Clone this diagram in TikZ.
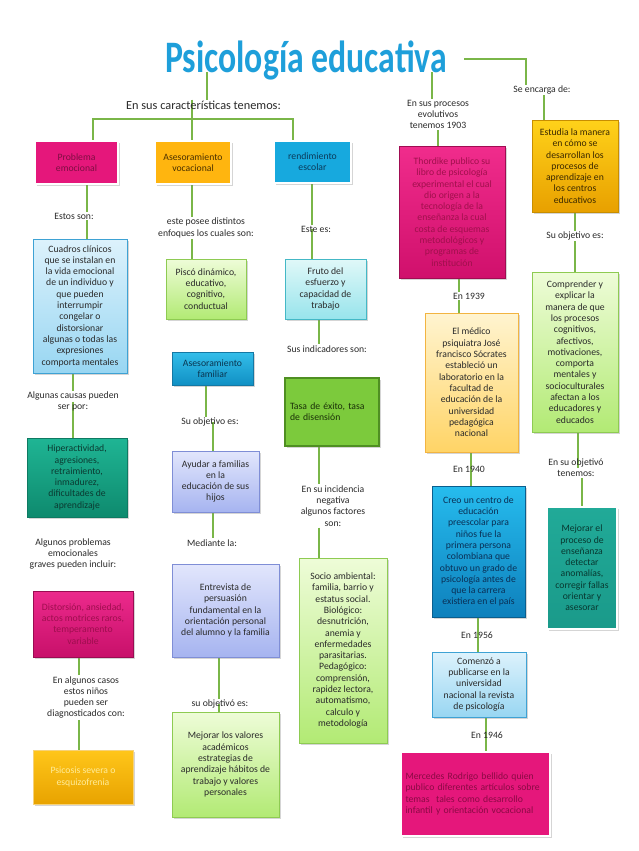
\documentclass[tikz,border=0pt]{standalone}
\usepackage{fontspec}
\setmainfont{Carlito}
\newfontfamily\titlefont[FakeStretch=0.75]{Carlito}
\usetikzlibrary{shadows,calc}
\pgfdeclarelayer{bgzero}
\pgfdeclarelayer{background}
\pgfsetlayers{bgzero,background,main}
\definecolor{lnc}{HTML}{7AB648}
\definecolor{titc}{HTML}{1E9FDA}
\definecolor{lblc}{HTML}{2A2A2A}
\definecolor{mag}{HTML}{E5177B}
\definecolor{magtxt}{HTML}{7E0E42}
\definecolor{orng}{HTML}{FFB50F}
\definecolor{blu}{HTML}{17A9DE}
\definecolor{tasag}{HTML}{7CCA3C}
\definecolor{tasab}{HTML}{4F8F22}
\definecolor{tasat}{HTML}{1A3008}
\definecolor{lgT}{HTML}{EEFCD8}\definecolor{lgB}{HTML}{B2EA74}\definecolor{lgD}{HTML}{8ECB52}
\definecolor{lvT}{HTML}{E2E6FC}\definecolor{lvB}{HTML}{A6B4F0}\definecolor{lvD}{HTML}{7F8ED6}
\definecolor{lbT}{HTML}{DDF2FC}\definecolor{lbB}{HTML}{98D6F2}\definecolor{lbD}{HTML}{3EA2D4}
\definecolor{lcT}{HTML}{E0F8F8}\definecolor{lcB}{HTML}{98E4EC}\definecolor{lcD}{HTML}{44B8C6}
\definecolor{loT}{HTML}{FFF4D0}\definecolor{loB}{HTML}{FFD466}\definecolor{loD}{HTML}{F2B441}
\definecolor{hipT}{HTML}{1FB594}\definecolor{hipB}{HTML}{0E8A6E}\definecolor{hipD}{HTML}{0E7A62}\definecolor{hipX}{HTML}{0B3A31}
\definecolor{disT}{HTML}{EC2A8C}\definecolor{disB}{HTML}{C8106A}\definecolor{disD}{HTML}{9A0C52}\definecolor{disX}{HTML}{9E0E4E}
\definecolor{psiT}{HTML}{FFC61A}\definecolor{psiB}{HTML}{E8A300}\definecolor{psiD}{HTML}{F6D27A}\definecolor{psiX}{HTML}{FFEC9A}
\definecolor{avX}{HTML}{4A3000}
\definecolor{afT}{HTML}{34BEEA}\definecolor{afB}{HTML}{1090C4}\definecolor{afD}{HTML}{1478A4}\definecolor{afX}{HTML}{0A3550}
\definecolor{reX}{HTML}{0A3A5A}
\definecolor{thT}{HTML}{F02C8C}\definecolor{thB}{HTML}{D0106C}\definecolor{thD}{HTML}{A00C52}\definecolor{thX}{HTML}{A0104C}
\definecolor{crT}{HTML}{26BCEE}\definecolor{crB}{HTML}{0E80BC}\definecolor{crD}{HTML}{0A5E8E}\definecolor{crX}{HTML}{0A2F55}
\definecolor{merX}{HTML}{8A0A44}
\definecolor{esT}{HTML}{FFD21A}\definecolor{esB}{HTML}{E8A000}\definecolor{esD}{HTML}{C88E00}\definecolor{esX}{HTML}{3A2800}
\definecolor{mpT}{HTML}{21AA98}\definecolor{mpB}{HTML}{1A9A8A}\definecolor{mpX}{HTML}{083830}
\newcommand\bxfs{\fontsize{9.7}{11.3}\selectfont}
\tikzset{
  x=1pt, y=-1pt,
  ln/.style={draw=lnc, line width=1.2pt},
  lbl/.style={font=\bxfs, align=center, inner sep=1pt, text=lblc},
  bx/.style 2 args={minimum width=#1pt, minimum height=#2pt, inner sep=2pt, align=center,
     font=\bxfs, line width=0.8pt,
     drop shadow={shadow xshift=1.6pt, shadow yshift=-1.8pt, opacity=0.33}},
  frame/.style={draw=white, line width=2.4pt},
  grad/.style n args={3}{top color=#1, bottom color=#2, draw=#3},
  lgreen/.style={grad={lgT}{lgB}{lgD}},
  lav/.style={grad={lvT}{lvB}{lvD}},
  lblue/.style={grad={lbT}{lbB}{lbD}},
}
\begin{document}
\begin{tikzpicture}
\begin{pgfonlayer}{bgzero}
\fill[white] (0,0) rectangle (638,851);
\end{pgfonlayer}
\useasboundingbox (0,0) rectangle (638,851);
% title and heading
\node[font=\titlefont\bfseries\fontsize{45}{50}\selectfont, text=titc, inner sep=0pt, anchor=base] (title) at (306,72) {Psicología educativa};
\node[font=\fontsize{12.3}{14}\selectfont, text=lblc, inner sep=1pt] (head) at (203.5,105) {En sus características tenemos:};
\coordinate (jn) at (192,119);
% left column
\node[bx={83}{43}, frame, fill=mag, text=magtxt] (pe) at (76.5,162.5) {Problema\\emocional};
\node[lbl] (estos) at (74,216) {Estos son:};
\node[bx={94}{134}, lblue, text=lblc] (cc) at (80,306) {Cuadros clínicos\\que se instalan en\\la vida emocional\\de un individuo y\\que pueden\\interrumpir\\congelar o\\distorsionar\\algunas o todas las\\expresiones\\comporta mentales};
\node[lbl] (causas) at (73,401.5) {Algunas causas pueden\\ser por:};
\node[bx={100}{79}, grad={hipT}{hipB}{hipD}, text=hipX] (hip) at (77,477.5) {Hiperactividad,\\agresiones,\\retraimiento,\\inmadurez,\\dificultades de\\aprendizaje};
\node[lbl] (graves) at (73,554) {Algunos problemas\\emocionales\\graves pueden incluir:};
\node[bx={100}{66}, grad={disT}{disB}{disD}, text=disX] (dis) at (83,624) {Distorsión, ansiedad,\\actos motrices raros,\\temperamento\\variable};
\node[lbl] (casos) at (86,697.5) {En algunos casos\\estos niños\\pueden ser\\diagnosticados con:};
\node[bx={100}{54}, grad={psiT}{psiB}{psiD}, text=psiX] (psi) at (83,777) {Psicosis severa o\\esquizofrenia};
% middle column
\node[bx={76}{43}, frame, fill=orng, text=avX] (av) at (193,162.5) {Asesoramiento\\vocacional};
\node[lbl] (enf) at (206,228) {este posee distintos\\enfoques los cuales son:};
\node[bx={80}{60}, lgreen, text=lblc] (pis) at (206,289) {Piscó dinámico,\\educativo,\\cognitivo,\\conductual};
\node[bx={81}{33}, grad={afT}{afB}{afD}, text=afX] (af) at (212.5,368.5) {Asesoramiento\\familiar};
\node[lbl] (obj1) at (210,422) {Su objetivo es:};
\node[bx={87}{61}, lav, text=lblc] (ayu) at (215.5,481.5) {Ayudar a familias\\en la\\educación de sus\\hijos};
\node[lbl] (med) at (212,543) {Mediante la:};
\node[bx={107}{93}, lav, text=lblc] (ent) at (225.5,610.5) {Entrevista de\\persuasión\\fundamental en la\\orientación personal\\del alumno y la familia};
\node[lbl] (obj2) at (220,704) {su objetivó es:};
\node[bx={107}{105}, lgreen, text=lblc] (mej) at (225.5,764.5) {Mejorar los valores\\académicos\\estrategias de\\aprendizaje hábitos de\\trabajo y valores\\personales};
% third column
\node[bx={77}{42}, frame, fill=blu, text=reX] (re) at (312.5,162) {rendimiento\\escolar};
\node[lbl] (este) at (316,229) {Este es:};
\node[bx={81}{60}, grad={lcT}{lcB}{lcD}, text=lblc] (fru) at (325.5,289) {Fruto del\\esfuerzo y\\capacidad de\\trabajo};
\node[lbl] (ind) at (327,349) {Sus indicadores son:};
\node[bx={94}{68}, fill=tasag, draw=tasab, line width=1.6pt, text=tasat, align=left, text width=84pt] (tasa) at (332,412) {Tasa de éxito, tasa\\de disensión};
\node[lbl] (inc) at (333,506) {En su incidencia\\negativa\\algunos factores\\son:};
\node[bx={88}{185}, lgreen, text=lblc] (soc) at (343,650.5) {Socio ambiental:\\familia, barrio y\\estatus social.\\Biológico:\\desnutrición,\\anemia y\\enfermedades\\parasitarias.\\Pedagógico:\\comprensión,\\rapidez lectora,\\automatismo,\\calculo y\\metodología};
% fourth column
\node[lbl] (proc) at (438,114.5) {En sus procesos\\evolutivos\\tenemos 1903};
\node[bx={106}{132}, grad={thT}{thB}{thD}, text=thX] (tho) at (452,212) {Thordike publico su\\libro de psicología\\experimental el cual\\dio origen a la\\tecnología de la\\enseñanza la cual\\costa de esquemas\\metodológicos y\\programas de\\institución};
\node[lbl] (y39) at (469,296) {En 1939};
\node[bx={93}{139}, grad={loT}{loB}{loD}, text=lblc] (medi) at (471.5,382.5) {El médico\\psiquiatra José\\francisco Sócrates\\estableció un\\laboratorio en la\\facultad de\\educación de la\\universidad\\pedagógica\\nacional};
\node[lbl] (y40) at (469,469) {En 1940};
\node[bx={93}{131}, grad={crT}{crB}{crD}, text=crX] (cre) at (478.5,551.5) {Creo un centro de\\educación\\preescolar para\\niños fue la\\primera persona\\colombiana que\\obtuvo un grado de\\psicología antes de\\que la carrera\\existiera en el país};
\node[lbl] (y56) at (477,635) {En 1956};
\node[bx={94}{65}, lblue, text=lblc] (com) at (479,684.5) {Comenzó a\\publicarse en la\\universidad\\nacional la revista\\de psicología};
\node[lbl] (y46) at (487,735) {En 1946};
\node[bx={149}{84}, frame, fill=mag, text=merX, align=left, text width=140pt] (mer) at (475.5,794) {Mercedes Rodrigo bellido quien\\publico diferentes artículos sobre\\temas\ \ tales como desarrollo\\infantil y orientación vocacional};
% fifth column
\node[lbl] (enc) at (542,90) {Se encarga de:};
\node[bx={86}{92}, grad={esT}{esB}{esD}, text=esX] (est) at (575,166) {Estudia la manera\\en cómo se\\desarrollan los\\procesos de\\aprendizaje en\\los centros\\educativos};
\node[lbl] (obj3) at (575,236) {Su objetivo es:};
\node[bx={86}{160}, lgreen, text=lblc] (comp) at (575,352) {Comprender y\\explicar la\\manera de que\\los procesos\\cognitivos,\\afectivos,\\motivaciones,\\comporta\\mentales y\\socioculturales\\afectan a los\\educadores y\\educados};
\node[lbl] (obj4) at (576,467.5) {En su objetivó\\tenemos:};
\node[bx={70}{122}, frame, top color=mpT, bottom color=mpB, text=mpX] (mep) at (582,568) {Mejorar el\\proceso de\\enseñanza\\detectar\\anomalías,\\corregir fallas\\orientar y\\asesorar};
% connectors
\begin{pgfonlayer}{background}
\draw[ln] (title.base -| 207,0) -- (head.north -| 207,0);
\draw[ln] (head.north -| jn) -- (jn);
\draw[ln] (pe.north -| 93,0) |- (jn) -| (re.north -| 293,0);
\draw[ln] (jn) -- (av.north -| jn);
\draw[ln] ([xshift=17pt]title.east |- 0,59) -| (enc.north -| 526,0);
\draw[ln] (enc.south -| 544,0) -- (est.north -| 544,0);
\draw[ln] (title.base -| 432,0) -- (proc.north -| 432,0);
\draw[ln] (proc.south -| 438,0) -- (tho.north -| 438,0);
% left
\draw[ln] (pe.south -| 87,0) -- (estos.north -| 87,0);
\draw[ln] (estos.south -| 87,0) -- (cc.north -| 87,0);
\draw[ln] (cc.south -| 73,0) -- (causas.north -| 73,0);
\draw[ln] (causas.center -| 73,0) -- (hip.north -| 73,0);
\draw[ln] (dis.south -| 79,0) -- (casos.north -| 79,0);
\draw[ln] (casos.south -| 79,0) -- (psi.north -| 79,0);
% middle
\draw[ln] (av.south -| 192,0) -- (enf.north -| 192,0);
\draw[ln] (enf.south -| 192,0) -- (pis.north -| 192,0);
\draw[ln] (af.south -| 206,0) -- (obj1.north -| 206,0);
\draw[ln] (obj1.center -| 213,0) -- (ayu.north -| 213,0);
\draw[ln] (ayu.south -| 213,0) -- (med.north -| 213,0);
\draw[ln] (ent.south -| 219,0) -- (obj2.north -| 219,0);
\draw[ln] (obj2.center -| 219,0) -- (mej.north -| 219,0);
% third
\draw[ln] (re.south -| 312,0) -- (este.north -| 312,0);
\draw[ln] (este.center -| 312,0) -- (fru.north -| 312,0);
\draw[ln] (fru.south -| 319,0) -- (ind.north -| 319,0);
\draw[ln] (tasa.south -| 319,0) -- (inc.north -| 319,0);
\draw[ln] (inc.south -| 319,0) -- (soc.north -| 319,0);
% fourth
\draw[ln] (tho.south -| 459,0) -- (y39.north -| 459,0);
\draw[ln] (y39.south -| 459,0) -- (medi.north -| 459,0);
\draw[ln] (medi.south -| 471,0) -- (y40.center -| 471,0) -- (cre.north -| 471,0);
\draw[ln] (cre.south -| 478,0) -- (y56.center -| 478,0) -- (com.north -| 478,0);
\draw[ln] (com.south -| 486,0) -- (y46.center -| 486,0) -- (mer.north -| 486,0);
% fifth
\draw[ln] (est.south -| 575,0) -- (obj3.north -| 575,0);
\draw[ln] (obj3.south -| 575,0) -- (comp.north -| 575,0);
\draw[ln] (comp.south -| 578,0) -- (obj4.center -| 578,0);
\draw[ln] (obj4.south -| 582,0) -- (mep.north -| 582,0);
\end{pgfonlayer}
\end{tikzpicture}
\end{document}
